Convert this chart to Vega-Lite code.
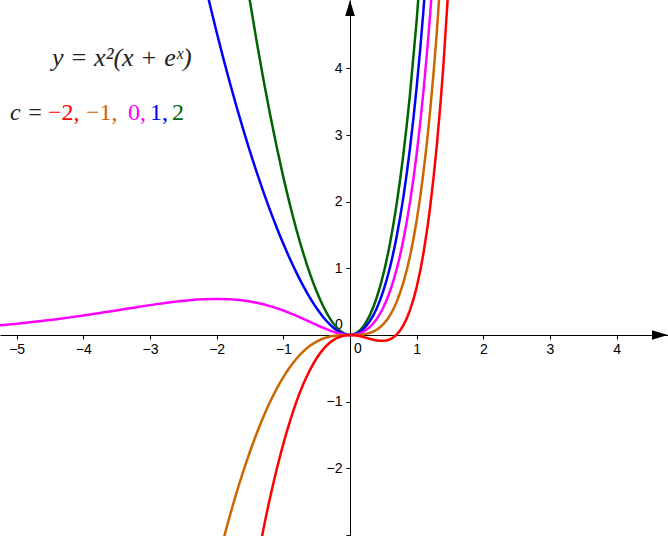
{
  "$schema": "https://vega.github.io/schema/vega-lite/v6.json",
  "width": 668,
  "height": 536,
  "autosize": "none",
  "padding": 0,
  "background": "white",
  "config": {"view": {"stroke": null}},
  "layer": [
    {
      "data": {"values": [{}]},
      "mark": {"type": "text", "text": "0", "font": "Liberation Sans", "fontSize": 14, "dx": -11, "dy": -10, "color": "black"},
      "encoding": {
        "x": {"datum": 0, "type": "quantitative", "title": null},
        "y": {"datum": 0, "type": "quantitative", "title": null}
      }
    },
    {
      "data": {"values": [
        {"c": 2, "x": -1.7, "y": 6.308}, {"c": 2, "x": -1.6, "y": 5.6369}, {"c": 2, "x": -1.5, "y": 5.002}, {"c": 2, "x": -1.4, "y": 4.4033}, {"c": 2, "x": -1.3, "y": 3.8406}, {"c": 2, "x": -1.2, "y": 3.3137}, {"c": 2, "x": -1.1, "y": 2.8228}, {"c": 2, "x": -1.0, "y": 2.3679}, {"c": 2, "x": -0.9, "y": 1.9493}, {"c": 2, "x": -0.8, "y": 1.5676}, {"c": 2, "x": -0.7, "y": 1.2233}, {"c": 2, "x": -0.6, "y": 0.9176}, {"c": 2, "x": -0.5, "y": 0.6516}, {"c": 2, "x": -0.4, "y": 0.4273}, {"c": 2, "x": -0.3, "y": 0.2467}, {"c": 2, "x": -0.2, "y": 0.1127}, {"c": 2, "x": -0.1, "y": 0.029}, {"c": 2, "x": 0, "y": 0}, {"c": 2, "x": 0.1, "y": 0.0311}, {"c": 2, "x": 0.2, "y": 0.1289}, {"c": 2, "x": 0.3, "y": 0.3015}, {"c": 2, "x": 0.4, "y": 0.5587}, {"c": 2, "x": 0.5, "y": 0.9122}, {"c": 2, "x": 0.6, "y": 1.376}, {"c": 2, "x": 0.7, "y": 1.9667}, {"c": 2, "x": 0.8, "y": 2.7043}, {"c": 2, "x": 0.9, "y": 3.6123}, {"c": 2, "x": 1.0, "y": 4.7183}, {"c": 2, "x": 1.1, "y": 6.055},
        {"c": 1, "x": -2.3, "y": 5.8204}, {"c": 1, "x": -2.2, "y": 5.3763}, {"c": 1, "x": -2.1, "y": 4.95}, {"c": 1, "x": -2.0, "y": 4.5413}, {"c": 1, "x": -1.9, "y": 4.1499}, {"c": 1, "x": -1.8, "y": 3.7756}, {"c": 1, "x": -1.7, "y": 3.418}, {"c": 1, "x": -1.6, "y": 3.0769}, {"c": 1, "x": -1.5, "y": 2.752}, {"c": 1, "x": -1.4, "y": 2.4433}, {"c": 1, "x": -1.3, "y": 2.1506}, {"c": 1, "x": -1.2, "y": 1.8737}, {"c": 1, "x": -1.1, "y": 1.6128}, {"c": 1, "x": -1.0, "y": 1.3679}, {"c": 1, "x": -0.9, "y": 1.1393}, {"c": 1, "x": -0.8, "y": 0.9276}, {"c": 1, "x": -0.7, "y": 0.7333}, {"c": 1, "x": -0.6, "y": 0.5576}, {"c": 1, "x": -0.5, "y": 0.4016}, {"c": 1, "x": -0.4, "y": 0.2673}, {"c": 1, "x": -0.3, "y": 0.1567}, {"c": 1, "x": -0.2, "y": 0.0727}, {"c": 1, "x": -0.1, "y": 0.019}, {"c": 1, "x": 0, "y": 0}, {"c": 1, "x": 0.1, "y": 0.0211}, {"c": 1, "x": 0.2, "y": 0.0889}, {"c": 1, "x": 0.3, "y": 0.2115}, {"c": 1, "x": 0.4, "y": 0.3987}, {"c": 1, "x": 0.5, "y": 0.6622}, {"c": 1, "x": 0.6, "y": 1.016}, {"c": 1, "x": 0.7, "y": 1.4767}, {"c": 1, "x": 0.8, "y": 2.0643}, {"c": 1, "x": 0.9, "y": 2.8023}, {"c": 1, "x": 1.0, "y": 3.7183}, {"c": 1, "x": 1.1, "y": 4.845}, {"c": 1, "x": 1.2, "y": 6.221},
        {"c": 0, "x": -5.4, "y": 0.1317}, {"c": 0, "x": -5.2, "y": 0.1492}, {"c": 0, "x": -5.0, "y": 0.1684}, {"c": 0, "x": -4.8, "y": 0.1896}, {"c": 0, "x": -4.6, "y": 0.2127}, {"c": 0, "x": -4.4, "y": 0.2377}, {"c": 0, "x": -4.2, "y": 0.2645}, {"c": 0, "x": -4.0, "y": 0.2931}, {"c": 0, "x": -3.8, "y": 0.323}, {"c": 0, "x": -3.6, "y": 0.3541}, {"c": 0, "x": -3.4, "y": 0.3858}, {"c": 0, "x": -3.2, "y": 0.4174}, {"c": 0, "x": -3.0, "y": 0.4481}, {"c": 0, "x": -2.8, "y": 0.4767}, {"c": 0, "x": -2.6, "y": 0.5021}, {"c": 0, "x": -2.4, "y": 0.5225}, {"c": 0, "x": -2.2, "y": 0.5363}, {"c": 0, "x": -2.0, "y": 0.5413}, {"c": 0, "x": -1.8, "y": 0.5356}, {"c": 0, "x": -1.6, "y": 0.5169}, {"c": 0, "x": -1.4, "y": 0.4833}, {"c": 0, "x": -1.2, "y": 0.4337}, {"c": 0, "x": -1.0, "y": 0.3679}, {"c": 0, "x": -0.9, "y": 0.3293}, {"c": 0, "x": -0.8, "y": 0.2876}, {"c": 0, "x": -0.7, "y": 0.2433}, {"c": 0, "x": -0.6, "y": 0.1976}, {"c": 0, "x": -0.5, "y": 0.1516}, {"c": 0, "x": -0.4, "y": 0.1073}, {"c": 0, "x": -0.3, "y": 0.0667}, {"c": 0, "x": -0.2, "y": 0.0327}, {"c": 0, "x": -0.1, "y": 0.009}, {"c": 0, "x": 0, "y": 0}, {"c": 0, "x": 0.1, "y": 0.0111}, {"c": 0, "x": 0.2, "y": 0.0489}, {"c": 0, "x": 0.3, "y": 0.1215}, {"c": 0, "x": 0.4, "y": 0.2387}, {"c": 0, "x": 0.5, "y": 0.4122}, {"c": 0, "x": 0.6, "y": 0.656}, {"c": 0, "x": 0.7, "y": 0.9867}, {"c": 0, "x": 0.8, "y": 1.4243}, {"c": 0, "x": 0.9, "y": 1.9923}, {"c": 0, "x": 1.0, "y": 2.7183}, {"c": 0, "x": 1.1, "y": 3.635}, {"c": 0, "x": 1.2, "y": 4.781}, {"c": 0, "x": 1.3, "y": 6.2011},
        {"c": -1, "x": -2.0, "y": -3.4587}, {"c": -1, "x": -1.9, "y": -3.0701}, {"c": -1, "x": -1.8, "y": -2.7044}, {"c": -1, "x": -1.7, "y": -2.362}, {"c": -1, "x": -1.6, "y": -2.0431}, {"c": -1, "x": -1.5, "y": -1.748}, {"c": -1, "x": -1.4, "y": -1.4767}, {"c": -1, "x": -1.3, "y": -1.2294}, {"c": -1, "x": -1.2, "y": -1.0063}, {"c": -1, "x": -1.1, "y": -0.8072}, {"c": -1, "x": -1.0, "y": -0.6321}, {"c": -1, "x": -0.9, "y": -0.4807}, {"c": -1, "x": -0.8, "y": -0.3524}, {"c": -1, "x": -0.7, "y": -0.2467}, {"c": -1, "x": -0.6, "y": -0.1624}, {"c": -1, "x": -0.5, "y": -0.0984}, {"c": -1, "x": -0.4, "y": -0.0527}, {"c": -1, "x": -0.3, "y": -0.0233}, {"c": -1, "x": -0.2, "y": -0.0073}, {"c": -1, "x": -0.1, "y": -0.00095}, {"c": -1, "x": 0, "y": 0}, {"c": -1, "x": 0.1, "y": 0.00105}, {"c": -1, "x": 0.2, "y": 0.00886}, {"c": -1, "x": 0.3, "y": 0.0315}, {"c": -1, "x": 0.4, "y": 0.0787}, {"c": -1, "x": 0.5, "y": 0.1622}, {"c": -1, "x": 0.6, "y": 0.296}, {"c": -1, "x": 0.7, "y": 0.4967}, {"c": -1, "x": 0.8, "y": 0.7843}, {"c": -1, "x": 0.9, "y": 1.1823}, {"c": -1, "x": 1.0, "y": 1.7183}, {"c": -1, "x": 1.1, "y": 2.425}, {"c": -1, "x": 1.2, "y": 3.341}, {"c": -1, "x": 1.3, "y": 4.5111}, {"c": -1, "x": 1.4, "y": 5.9882},
        {"c": -2, "x": -1.4, "y": -3.4367}, {"c": -2, "x": -1.3, "y": -2.9194}, {"c": -2, "x": -1.2, "y": -2.4463}, {"c": -2, "x": -1.1, "y": -2.0172}, {"c": -2, "x": -1.0, "y": -1.6321}, {"c": -2, "x": -0.9, "y": -1.2907}, {"c": -2, "x": -0.8, "y": -0.9924}, {"c": -2, "x": -0.7, "y": -0.7367}, {"c": -2, "x": -0.6, "y": -0.5224}, {"c": -2, "x": -0.5, "y": -0.3484}, {"c": -2, "x": -0.4, "y": -0.2127}, {"c": -2, "x": -0.3, "y": -0.1133}, {"c": -2, "x": -0.2, "y": -0.0473}, {"c": -2, "x": -0.1, "y": -0.011}, {"c": -2, "x": 0, "y": 0}, {"c": -2, "x": 0.1, "y": -0.0089}, {"c": -2, "x": 0.2, "y": -0.0311}, {"c": -2, "x": 0.3, "y": -0.0585}, {"c": -2, "x": 0.4, "y": -0.0813}, {"c": -2, "x": 0.5, "y": -0.0878}, {"c": -2, "x": 0.6, "y": -0.064}, {"c": -2, "x": 0.7, "y": 0.0067}, {"c": -2, "x": 0.8, "y": 0.1443}, {"c": -2, "x": 0.9, "y": 0.3723}, {"c": -2, "x": 1.0, "y": 0.7183}, {"c": -2, "x": 1.1, "y": 1.215}, {"c": -2, "x": 1.2, "y": 1.901}, {"c": -2, "x": 1.3, "y": 2.8211}, {"c": -2, "x": 1.4, "y": 4.0282}, {"c": -2, "x": 1.5, "y": 5.5838}
      ]},
      "mark": {"type": "line", "clip": true, "strokeWidth": 2.5, "interpolate": "monotone", "strokeCap": "round"},
      "encoding": {
        "x": {
          "field": "x", "type": "quantitative", "title": null,
          "scale": {"domain": [-5.25, 4.77], "nice": false, "zero": false},
          "axis": {
            "orient": "bottom", "offset": -201, "title": null, "format": "d",
            "values": [-5, -4, -3, -2, -1, 1, 2, 3, 4],
            "grid": false, "domain": true, "domainColor": "black", "domainWidth": 1,
            "ticks": true, "tickSize": 4, "tickColor": "black", "tickWidth": 1,
            "labelFont": "Liberation Sans", "labelFontSize": 14, "labelColor": "black",
            "labelPadding": 3, "labelFlush": false, "labelOverlap": false
          }
        },
        "y": {
          "field": "y", "type": "quantitative", "title": null,
          "scale": {"domain": [-3.015, 5.025], "nice": false, "zero": false},
          "axis": {
            "orient": "left", "offset": -350, "title": null, "format": "d",
            "values": [-3, -2, -1, 1, 2, 3, 4],
            "labelExpr": "datum.value == -3 ? '' : datum.label",
            "grid": false, "domain": true, "domainColor": "black", "domainWidth": 1,
            "ticks": true, "tickSize": 4, "tickColor": "black", "tickWidth": 1,
            "labelFont": "Liberation Sans", "labelFontSize": 14, "labelColor": "black",
            "labelPadding": 4, "labelFlush": false, "labelOverlap": false
          }
        },
        "color": {
          "field": "c", "type": "nominal",
          "scale": {"domain": [2, 1, 0, -1, -2], "range": ["#006400", "#0000FF", "#FF00FF", "#CC6600", "#FF0000"]},
          "legend": null
        }
      }
    },
    {
      "data": {"values": [{}]},
      "mark": {"type": "text", "text": "0", "font": "Liberation Sans", "fontSize": 14, "dx": 8, "dy": 14, "color": "black"},
      "encoding": {
        "x": {"datum": 0, "type": "quantitative", "title": null},
        "y": {"datum": 0, "type": "quantitative", "title": null}
      }
    },
    {
      "data": {"values": [{}]},
      "mark": {"type": "point", "filled": true, "color": "black", "opacity": 1, "size": 1024, "shape": "M0,0 L-1,-0.3 L-1,0.3 Z"},
      "encoding": {
        "x": {"datum": 4.77, "type": "quantitative", "title": null},
        "y": {"datum": 0, "type": "quantitative", "title": null}
      }
    },
    {
      "data": {"values": [{}]},
      "mark": {"type": "point", "filled": true, "color": "black", "opacity": 1, "size": 1024, "shape": "M0,0 L-0.3,1 L0.3,1 Z"},
      "encoding": {
        "x": {"datum": 0, "type": "quantitative", "title": null},
        "y": {"datum": 5.025, "type": "quantitative", "title": null}
      }
    },
    {
      "data": {"values": [{}]},
      "mark": {"type": "text", "text": "y = x²(x + eˣ)", "font": "Liberation Serif", "fontStyle": "italic", "fontSize": 26, "align": "left", "baseline": "middle", "color": "#222222"},
      "encoding": {
        "x": {"datum": -4.47, "type": "quantitative", "title": null},
        "y": {"datum": 4.155, "type": "quantitative", "title": null}
      }
    },
    {
      "data": {"values": [{}]},
      "mark": {"type": "text", "text": "c =", "font": "Liberation Serif", "fontStyle": "italic", "fontSize": 24, "align": "left", "baseline": "middle", "color": "#222222"},
      "encoding": {
        "x": {"datum": -5.1, "type": "quantitative", "title": null},
        "y": {"datum": 3.33, "type": "quantitative", "title": null}
      }
    },
    {
      "data": {"values": [{}]},
      "mark": {"type": "text", "text": "−2,", "font": "Liberation Serif", "fontSize": 24, "align": "left", "baseline": "middle", "color": "#FF0000"},
      "encoding": {
        "x": {"datum": -4.53, "type": "quantitative", "title": null},
        "y": {"datum": 3.33, "type": "quantitative", "title": null}
      }
    },
    {
      "data": {"values": [{}]},
      "mark": {"type": "text", "text": "−1,", "font": "Liberation Serif", "fontSize": 24, "align": "left", "baseline": "middle", "color": "#CC6600"},
      "encoding": {
        "x": {"datum": -3.96, "type": "quantitative", "title": null},
        "y": {"datum": 3.33, "type": "quantitative", "title": null}
      }
    },
    {
      "data": {"values": [{}]},
      "mark": {"type": "text", "text": "0,", "font": "Liberation Serif", "fontSize": 24, "align": "left", "baseline": "middle", "color": "#FF00FF"},
      "encoding": {
        "x": {"datum": -3.33, "type": "quantitative", "title": null},
        "y": {"datum": 3.33, "type": "quantitative", "title": null}
      }
    },
    {
      "data": {"values": [{}]},
      "mark": {"type": "text", "text": "1,", "font": "Liberation Serif", "fontSize": 24, "align": "left", "baseline": "middle", "color": "#0000FF"},
      "encoding": {
        "x": {"datum": -3.0, "type": "quantitative", "title": null},
        "y": {"datum": 3.33, "type": "quantitative", "title": null}
      }
    },
    {
      "data": {"values": [{}]},
      "mark": {"type": "text", "text": "2", "font": "Liberation Serif", "fontSize": 24, "align": "left", "baseline": "middle", "color": "#006400"},
      "encoding": {
        "x": {"datum": -2.67, "type": "quantitative", "title": null},
        "y": {"datum": 3.33, "type": "quantitative", "title": null}
      }
    }
  ]
}
